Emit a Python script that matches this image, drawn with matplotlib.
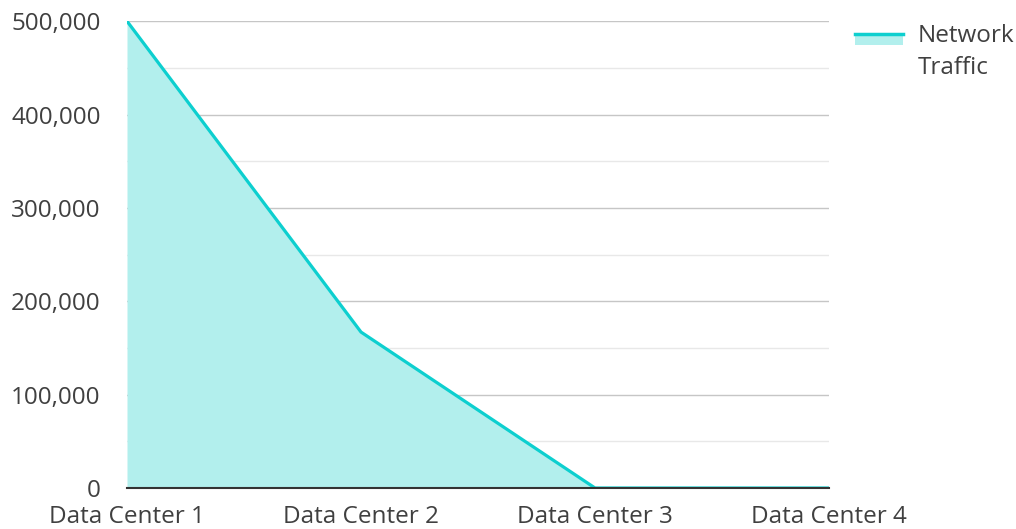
import matplotlib.pyplot as plt
from matplotlib.legend_handler import HandlerBase
from matplotlib.patches import Rectangle
from matplotlib.lines import Line2D
from matplotlib.ticker import FuncFormatter, MultipleLocator

plt.rcParams['font.family'] = ['Open Sans', 'DejaVu Sans']

categories = ['Data Center 1', 'Data Center 2', 'Data Center 3', 'Data Center 4']
traffic = [500000, 167000, 0, 0]
series_name = 'Network\nTraffic'

line_color = '#0dcfcf'
fill_color = '#b2efed'
text_color = '#404040'


class AreaHandler(HandlerBase):
    # legend key: light fill with the line along its top, sitting next to the first text line
    def create_artists(self, legend, orig_handle, xdescent, ydescent,
                       width, height, fontsize, trans):
        top = -ydescent + height + 7
        rect = Rectangle((-xdescent, top - 8), width, 8,
                         facecolor=fill_color, edgecolor='none', transform=trans)
        line = Line2D([-xdescent, -xdescent + width], [top, top],
                      color=line_color, lw=2.5, transform=trans)
        return [rect, line]


fig = plt.figure(figsize=(10.16, 5.29), dpi=100)
ax = fig.add_axes([0.125, 0.0775, 0.691, 0.8825])

x = list(range(len(categories)))
ax.fill_between(x, traffic, 0, color=fill_color, lw=0, zorder=2)
ax.plot(x, traffic, color=line_color, lw=2.3, zorder=3, solid_capstyle='butt')

ax.set_xlim(0, len(categories) - 1)
ax.set_ylim(0, 500000)
ax.yaxis.set_major_locator(MultipleLocator(100000))
ax.yaxis.set_minor_locator(MultipleLocator(50000))
ax.yaxis.set_major_formatter(FuncFormatter(lambda v, p: f'{int(v):,}'))
ax.grid(which='major', axis='y', color='#c6c6c6', lw=1, zorder=1)
ax.grid(which='minor', axis='y', color='#e8e8e8', lw=1, zorder=1)
ax.set_xticks(x)
ax.set_xticklabels(categories)
ax.tick_params(axis='both', which='both', length=0, labelsize=17.5, labelcolor=text_color)
ax.tick_params(axis='y', pad=19)
ax.tick_params(axis='x', pad=12)

for s in ['top', 'right', 'left']:
    ax.spines[s].set_visible(False)
ax.spines['bottom'].set_color('#333333')
ax.spines['bottom'].set_linewidth(1.5)
ax.spines['bottom'].set_zorder(4)

handle = Rectangle((0, 0), 1, 1)
leg = fig.legend([handle], [series_name], handler_map={Rectangle: AreaHandler()},
                 loc='upper left', bbox_to_anchor=(0.842, 0.955), frameon=False,
                 fontsize=17.5, labelcolor=text_color, handlelength=1.95,
                 handletextpad=0.6, borderaxespad=0, borderpad=0)
leg.get_texts()[0].set_linespacing(1.45)

fig.savefig('out.png', dpi=100)
